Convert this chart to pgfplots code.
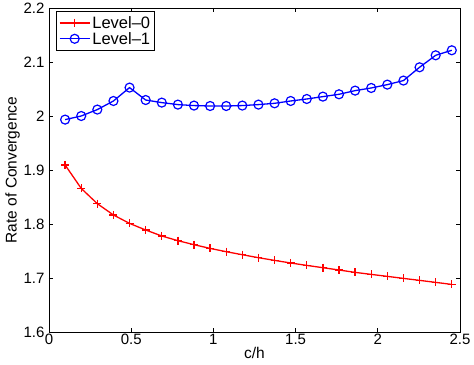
\documentclass[border=0pt]{standalone}
\usepackage{pgfplots}
\pgfplotsset{compat=1.18}
\usepackage{fontspec}
\setmainfont{Liberation Sans}
\newcommand{\lf}{\fontsize{16.5bp}{18bp}\selectfont}
\begin{document}
\begin{tikzpicture}
\begin{axis}[
  scale only axis, width=411bp, height=324bp,
  xmin=0, xmax=2.5, ymin=1.6, ymax=2.2,
  xtick={0,0.5,1,1.5,2,2.5},
  ytick={1.6,1.7,1.8,1.9,2.0,2.1,2.2},
  tick align=inside, major tick length=4bp,
  /pgf/number format/assume math mode=true,
  /pgf/number format/fixed,
  tick label style={font=\fontsize{15bp}{17bp}\selectfont},
  label style={font=\fontsize{15.5bp}{18bp}\selectfont},
  xticklabel style={yshift=1bp},
  yticklabel style={xshift=-1bp},
  xlabel={c/h}, ylabel={Rate of Convergence},
  xlabel style={yshift=5bp},
  ylabel style={yshift=-3bp},
  axis line style={line width=0.9bp},
  every tick/.style={black, line width=0.8bp},
  legend style={at={(0.01,0.99)}, anchor=north west, draw=black, line width=0.8bp,
    inner sep=2.5bp, row sep=-1.5bp, xshift=3bp},
  legend cell align=left,
  legend image code/.code={\draw[mark repeat=2,mark phase=2] plot coordinates {(0cm,0cm)(0.53cm,0cm)(1.06cm,0cm)};},
]
\addplot[red, line width=1.3bp, mark=+, mark size=4bp] coordinates {
(0.098,1.9093)(0.196,1.8659)(0.294,1.8376)(0.392,1.8167)(0.490,1.8011)
(0.588,1.7889)(0.686,1.7778)(0.784,1.7691)(0.882,1.7617)(0.980,1.7548)
(1.078,1.7487)(1.176,1.7431)(1.274,1.7376)(1.372,1.7326)(1.470,1.7278)
(1.568,1.7233)(1.666,1.7191)(1.764,1.7148)(1.862,1.7104)(1.960,1.7067)
(2.058,1.7030)(2.156,1.6993)(2.254,1.6956)(2.352,1.6919)(2.450,1.6881)
};
\addlegendentry{\lf Level--0}
\addplot[blue, line width=1.3bp, mark=o, mark size=4.5bp, mark options={line width=1.2bp}] coordinates {
(0.098,1.9933)(0.196,2.0000)(0.294,2.0119)(0.392,2.0278)(0.490,2.0526)
(0.588,2.0296)(0.686,2.0248)(0.784,2.0211)(0.882,2.0193)(0.980,2.0185)
(1.078,2.0185)(1.176,2.0193)(1.274,2.0211)(1.372,2.0235)(1.470,2.0278)
(1.568,2.0315)(1.666,2.0359)(1.764,2.0402)(1.862,2.0470)(1.960,2.0519)
(2.058,2.0581)(2.156,2.0656)(2.254,2.0902)(2.352,2.1124)(2.450,2.1217)
};
\addlegendentry{\lf Level--1}
\end{axis}
\pgfresetboundingbox
\path[use as bounding box] (-49bp,-33bp) rectangle (425bp,332bp);
\end{tikzpicture}
\end{document}
